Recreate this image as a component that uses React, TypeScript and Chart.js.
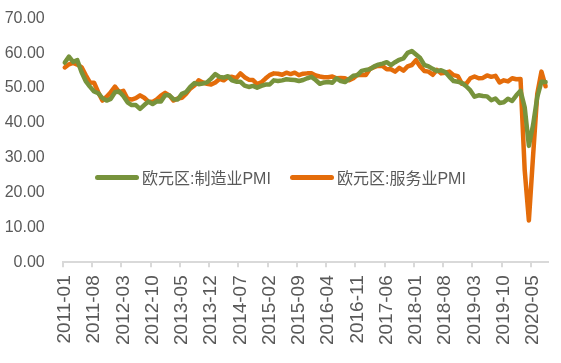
import React, { useEffect, useRef } from "react";
import { Chart, registerables } from "chart.js";

Chart.register(...registerables);

const years = [2011, 2012, 2013, 2014, 2015, 2016, 2017, 2018, 2019, 2020];
const categories: string[] = [];
for (const y of years) {
  for (let m = 1; m <= 12; m++) {
    if (y === 2020 && m > 8) break;
    categories.push(`${y}-${m < 10 ? "0" + m : m}`);
  }
}

const manufacturingPMI: number[] = [
  57.3, 59.0, 57.5, 58.0, 54.6, 52.0, 50.4, 49.0, 48.5, 47.1, 46.4, 46.9,
  48.8, 49.0, 47.7, 45.9, 45.1, 45.1, 44.0, 45.1, 46.1, 45.4, 46.2, 46.1,
  47.9, 47.9, 46.8, 46.7, 48.3, 48.8, 50.3, 51.4, 51.1, 51.3, 51.6, 52.7,
  54.0, 53.2, 53.0, 53.4, 52.2, 51.8, 51.8, 50.7, 50.3, 50.6, 50.1, 50.6,
  51.0, 51.0, 52.2, 52.0, 52.2, 52.5, 52.4, 52.3, 52.0, 52.3, 52.8, 53.2,
  52.3, 51.2, 51.6, 51.7, 51.5, 52.8, 52.0, 51.7, 52.6, 53.5, 53.7, 54.9,
  55.2, 55.4, 56.2, 56.7, 57.0, 57.4, 56.6, 57.4, 58.1, 58.5, 60.1, 60.6,
  59.6, 58.6, 56.6, 56.2, 55.5, 54.9, 55.1, 54.6, 53.2, 52.0, 51.8, 51.4,
  50.5, 49.3, 47.5, 47.9, 47.7, 47.6, 46.5, 47.0, 45.7, 45.9, 46.9, 46.3,
  47.9, 49.2, 44.5, 33.4, 39.4, 47.4, 51.8, 51.7,
];

const servicesPMI: number[] = [
  55.9, 56.8, 57.2, 56.7, 56.0, 53.7, 51.6, 51.5, 48.8, 46.4, 47.5, 48.8,
  50.4, 48.8, 49.2, 46.9, 46.7, 47.1, 47.9, 47.2, 46.1, 46.0, 46.7, 47.8,
  48.6, 47.9, 46.4, 47.0, 47.2, 48.3, 49.8, 50.7, 52.2, 51.6, 51.2, 51.0,
  51.6, 52.6, 52.2, 53.1, 53.2, 52.8, 54.2, 53.1, 52.4, 52.3, 51.1, 51.6,
  52.7, 53.7, 54.2, 54.1, 53.8, 54.4, 54.0, 54.4, 53.7, 54.1, 54.2, 54.2,
  53.6, 53.3, 53.1, 53.1, 53.3, 52.8, 52.9, 52.8, 52.2, 52.8, 53.8, 53.7,
  53.7, 55.5, 56.0, 56.4, 56.3, 55.4, 55.4, 54.7, 55.8, 55.0, 56.2, 56.6,
  58.0, 56.2, 54.9, 54.7, 53.8, 55.2, 54.2, 54.4, 54.7, 53.7, 53.4, 51.2,
  51.2, 52.8, 53.3, 52.8, 52.9, 53.6, 53.2, 53.5, 51.6, 52.2, 51.9, 52.8,
  52.5, 52.6, 26.4, 12.0, 30.5, 48.3, 54.7, 50.5,
];

const seriesNames = ["欧元区:制造业PMI", "欧元区:服务业PMI"];
const seriesColors = ["#77933C", "#E46C0A"];
const labelStep = 7;

const TEXT = "#595959";
const FONT = "'Liberation Sans', Arial, 'Noto Sans CJK SC', sans-serif";

export default function App() {
  const ref = useRef<HTMLCanvasElement | null>(null);

  useEffect(() => {
    if (!ref.current) return;
    const chart = new Chart(ref.current, {
      type: "line",
      data: {
        labels: categories,
        datasets: [
          {
            label: seriesNames[0],
            data: manufacturingPMI,
            borderColor: seriesColors[0],
            backgroundColor: seriesColors[0],
            borderWidth: 4.5,
            pointRadius: 0,
            tension: 0,
            borderCapStyle: "round",
            borderJoinStyle: "round",
          },
          {
            label: seriesNames[1],
            data: servicesPMI,
            borderColor: seriesColors[1],
            backgroundColor: seriesColors[1],
            borderWidth: 4.5,
            pointRadius: 0,
            tension: 0,
            borderCapStyle: "round",
            borderJoinStyle: "round",
          },
        ],
      },
      options: {
        responsive: false,
        animation: false,
        layout: { padding: { left: 0, right: 13.3, top: 18.3, bottom: 0 } },
        plugins: {
          legend: { display: false },
          tooltip: { enabled: false },
        },
        scales: {
          x: {
            type: "category",
            offset: true,
            afterFit: (scale: any) => {
              scale.height = 100.7;
              scale.paddingLeft = 0;
              scale.paddingRight = 0;
            },
            border: { display: true, color: "#D9D9D9", width: 2 },
            grid: {
              display: true,
              offset: true,
              drawOnChartArea: false,
              drawTicks: true,
              tickLength: 5,
              lineWidth: 2,
              color: (ctx: any) =>
                ctx.index % labelStep === 0 && ctx.index < categories.length
                  ? "#D9D9D9"
                  : "rgba(0,0,0,0)",
            },
            ticks: {
              autoSkip: false,
              maxRotation: 90,
              minRotation: 90,
              padding: 8,
              color: TEXT,
              font: { family: FONT, size: 19 },
              callback: (_v: any, i: number) =>
                i % labelStep === 0 ? categories[i] : "",
            },
          },
          y: {
            min: 0,
            max: 70,
            afterFit: (scale: any) => {
              scale.width = 62.7;
              scale.paddingTop = 0;
              scale.paddingBottom = 0;
            },
            border: { display: false },
            grid: { display: false, drawTicks: false },
            ticks: {
              stepSize: 10,
              padding: 18,
              color: TEXT,
              font: { family: FONT, size: 16 },
              callback: (v: any) => Number(v).toFixed(2),
            },
          },
        },
      },
    });
    return () => chart.destroy();
  }, []);

  const legendItem = (i: number, left: number) => (
    <div
      key={i}
      style={{
        position: "absolute",
        left,
        top: 166,
        height: 22,
        display: "flex",
        alignItems: "center",
        whiteSpace: "nowrap",
      }}
    >
      <div
        style={{
          width: 44,
          height: 5,
          borderRadius: 3,
          background: seriesColors[i],
          marginRight: 3,
        }}
      />
      <span style={{ fontFamily: FONT, fontSize: 16, color: TEXT }}>
        {seriesNames[i]}
      </span>
    </div>
  );

  return (
    <div
      style={{
        position: "fixed",
        left: 0,
        top: 0,
        width: 561,
        height: 363,
        background: "#fff",
      }}
    >
      <canvas ref={ref} width={561} height={363} />
      {legendItem(0, 95)}
      {legendItem(1, 290)}
    </div>
  );
}
